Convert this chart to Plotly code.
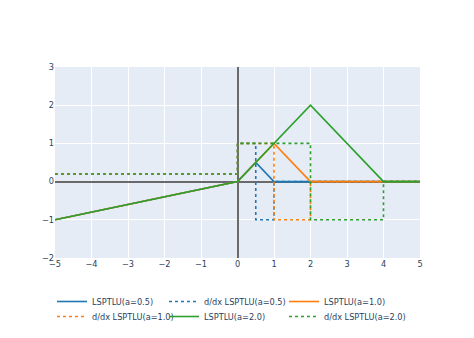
import plotly.graph_objects as go

# Function values (breakpoints)
x_f05 = [-5, 0, 0.5, 1, 5]
y_f05 = [-1, 0, 0.5, 0, 0]
x_d05 = [-5, 0, 0, 0.5, 0.5, 1, 1, 5]
y_d05 = [0.2, 0.2, 1, 1, -1, -1, 0, 0]

x_f10 = [-5, 0, 1, 2, 5]
y_f10 = [-1, 0, 1, 0, 0]
x_d10 = [-5, 0, 0, 1, 1, 2, 2, 5]
y_d10 = [0.2, 0.2, 1, 1, -1, -1, 0, 0]

x_f20 = [-5, 0, 2, 4, 5]
y_f20 = [-1, 0, 2, 0, 0]
x_d20 = [-5, 0, 0, 2, 2, 4, 4, 5]
y_d20 = [0.2, 0.2, 1, 1, -1, -1, 0, 0]

colors = ["#1f77b4", "#ff7f0e", "#2ca02c"]
series = [
    ("LSPTLU(a=0.5)", x_f05, y_f05, x_d05, y_d05, colors[0], "d/dx LSPTLU(a=0.5)"),
    ("LSPTLU(a=1.0)", x_f10, y_f10, x_d10, y_d10, colors[1], "d/dx LSPTLU(a=1.0)"),
    ("LSPTLU(a=2.0)", x_f20, y_f20, x_d20, y_d20, colors[2], "d/dx LSPTLU(a=2.0)"),
]

# legend grid slots (pixels in the 474x338 container): 3 columns x 2 rows
col_px = [52, 164, 284]
row_px = [287, 302]

fig = go.Figure()
legends = {}
idx = 0
for name, xf, yf, xd, yd, c, dname in series:
    for nm, xs, ys, dash in ((name, xf, yf, "solid"), (dname, xd, yd, "dot")):
        key = "legend" if idx == 0 else f"legend{idx + 1}"
        fig.add_trace(go.Scatter(x=xs, y=ys, mode="lines", name=nm,
                                 line=dict(color=c, width=1.6, dash=dash),
                                 legend=key, showlegend=True))
        legends[key] = dict(orientation="h", xref="container", yref="container",
                            x=col_px[idx % 3] / 474, y=1 - row_px[idx // 3] / 338,
                            xanchor="left", yanchor="top", font=dict(size=8.2),
                            bgcolor="rgba(0,0,0,0)")
        idx += 1

fig.update_layout(
    width=474, height=338,
    template="plotly",
    showlegend=True,
    margin=dict(l=55, r=54, t=67, b=80),
    font=dict(size=8.2, family="DejaVu Sans"),
    **legends,
)
fig.update_xaxes(range=[-5, 5], dtick=1, zeroline=True, zerolinecolor="#6a6a6a",
                 zerolinewidth=1.5)
fig.update_yaxes(range=[-2, 3], dtick=1, zeroline=True, zerolinecolor="#6a6a6a",
                 zerolinewidth=1.5)

fig.write_html("out.html")
